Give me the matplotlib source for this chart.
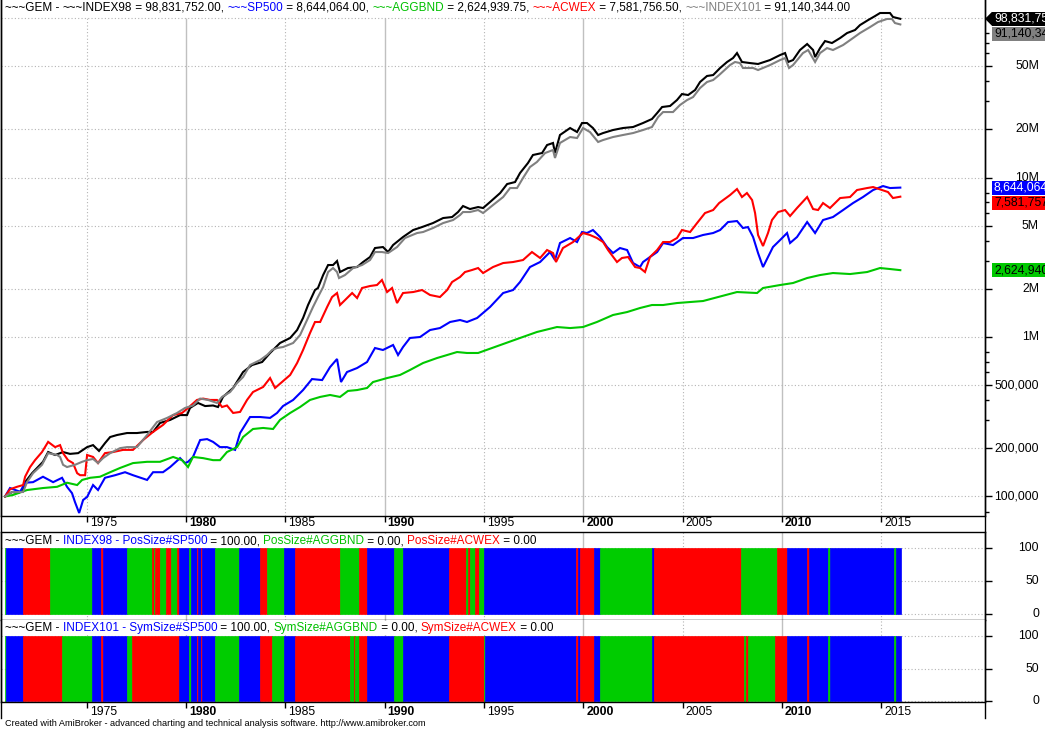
import matplotlib
matplotlib.use("Agg")
import matplotlib.pyplot as plt
from matplotlib.patches import Rectangle, Polygon
from matplotlib.lines import Line2D
from matplotlib.ticker import FixedLocator, NullFormatter
import numpy as np

plt.rcParams['font.family'] = ['Liberation Sans', 'DejaVu Sans']

# ---------------- data ----------------
idx98_dates = [1970.89, 1971.24, 1971.55, 1971.80, 1971.90, 1972.25, 1972.55, 1972.80, 1973.06, 1973.41,
               1973.81, 1974.16, 1974.57, 1975.02, 1975.32, 1975.62, 1975.92, 1976.18, 1976.53, 1977.03,
               1977.53, 1978.04, 1978.34, 1978.69, 1979.20, 1979.70, 1980.05, 1980.20, 1980.60, 1980.96,
               1981.36, 1981.61, 1981.86, 1982.37, 1982.87, 1983.32, 1983.83, 1984.23, 1984.73, 1985.24,
               1985.59, 1985.89, 1986.14, 1986.49, 1986.64, 1986.90, 1987.15, 1987.40, 1987.60, 1987.75,
               1988.15, 1988.61, 1988.91, 1989.26, 1989.51, 1989.91, 1990.17, 1990.42, 1990.92, 1991.43,
               1991.88, 1992.43, 1992.94, 1993.39, 1993.69, 1993.94, 1994.29, 1994.70, 1994.95, 1995.30,
               1995.81, 1996.16, 1996.56, 1996.81, 1997.21, 1997.46, 1997.92, 1998.17, 1998.47, 1998.57,
               1998.82, 1999.33, 1999.68, 1999.93, 2000.18, 2000.48, 2000.74, 2000.99, 2001.49, 2001.99,
               2002.50, 2003.00, 2003.45, 2003.71, 2003.96, 2004.36, 2004.71, 2004.96, 2005.27, 2005.62,
               2005.87, 2006.22, 2006.53, 2006.88, 2007.23, 2007.53, 2007.73, 2007.98, 2008.38, 2008.79,
               2009.39, 2009.90, 2010.15, 2010.30, 2010.55, 2010.90, 2011.26, 2011.56, 2011.66, 2011.91,
               2012.16, 2012.51, 2012.92, 2013.27, 2013.67, 2013.92, 2014.33, 2014.68, 2014.93, 2015.43,
               2015.58, 2015.95]
idx98_vals = [1.0e5, 1.067e5, 1.052e5, 1.098e5, 1.23e5, 1.40e5, 1.53e5, 1.65e5, 1.90e5, 1.82e5,
              1.90e5, 1.85e5, 1.87e5, 2.04e5, 2.10e5, 1.93e5, 2.16e5, 2.36e5, 2.43e5, 2.50e5,
              2.50e5, 2.54e5, 2.54e5, 2.89e5, 3.02e5, 3.24e5, 3.24e5, 3.59e5, 3.86e5, 3.69e5,
              3.72e5, 3.64e5, 4.21e5, 4.79e5, 6.03e5, 6.67e5, 6.97e5, 7.94e5, 9.17e5, 9.86e5,
              1.106e6, 1.316e6, 1.587e6, 1.970e6, 2.029e6, 2.446e6, 2.827e6, 2.827e6, 2.995e6, 2.555e6,
              2.707e6, 2.746e6, 2.952e6, 3.173e6, 3.613e6, 3.665e6, 3.410e6, 3.773e6, 4.235e6, 4.685e6,
              4.891e6, 5.182e6, 5.571e6, 5.652e6, 6.075e6, 6.625e6, 6.344e6, 6.528e6, 6.436e6, 7.017e6,
              7.992e6, 9.100e6, 9.365e6, 1.067e7, 1.233e7, 1.384e7, 1.424e7, 1.598e7, 1.646e7, 1.424e7,
              1.847e7, 2.043e7, 1.928e7, 2.196e7, 2.196e7, 2.043e7, 1.847e7, 1.900e7, 1.985e7, 2.043e7,
              2.073e7, 2.196e7, 2.327e7, 2.536e7, 2.767e7, 2.808e7, 3.061e7, 3.337e7, 3.290e7, 3.536e7,
              3.970e7, 4.330e7, 4.390e7, 4.860e7, 5.300e7, 5.610e7, 6.030e7, 5.300e7, 5.220e7, 5.150e7,
              5.450e7, 5.860e7, 6.030e7, 5.300e7, 5.450e7, 6.300e7, 6.870e7, 6.300e7, 5.690e7, 6.480e7,
              7.170e7, 6.970e7, 7.490e7, 8.050e7, 8.410e7, 9.030e7, 9.710e7, 1.029e8, 1.075e8, 1.075e8,
              1.015e8, 98831752.00]

idx101_dates = [1970.89, 1971.24, 1971.80, 1972.00, 1972.30, 1972.75, 1973.06, 1973.51, 1973.66, 1973.81,
                1974.01, 1974.41, 1974.77, 1975.02, 1975.32, 1975.57, 1975.82, 1976.18, 1976.68, 1977.03,
                1977.53, 1978.04, 1978.54, 1979.05, 1979.55, 1979.95, 1980.35, 1980.71, 1981.11, 1981.56,
                1981.81, 1982.22, 1982.57, 1982.87, 1983.22, 1983.73, 1984.08, 1984.33, 1984.58, 1984.88,
                1985.39, 1985.74, 1986.09, 1986.39, 1986.64, 1986.90, 1987.15, 1987.40, 1987.60, 1987.70,
                1988.00, 1988.41, 1988.86, 1989.26, 1989.51, 1989.86, 1990.17, 1990.62, 1991.02, 1991.63,
                1991.93, 1992.43, 1992.94, 1993.44, 1993.79, 1993.94, 1994.29, 1994.70, 1994.95, 1995.45,
                1995.96, 1996.31, 1996.66, 1996.96, 1997.31, 1997.66, 1998.07, 1998.47, 1998.57, 1998.82,
                1999.33, 1999.68, 1999.98, 2000.33, 2000.74, 2000.99, 2001.49, 2001.99, 2002.50, 2003.00,
                2003.45, 2003.76, 2004.01, 2004.51, 2004.86, 2005.22, 2005.52, 2005.87, 2006.22, 2006.53,
                2006.83, 2007.38, 2007.63, 2007.88, 2008.03, 2008.54, 2008.79, 2009.39, 2009.90, 2010.15,
                2010.35, 2010.55, 2011.05, 2011.31, 2011.66, 2011.91, 2012.26, 2012.56, 2013.07, 2013.57,
                2013.92, 2014.43, 2014.83, 2015.28, 2015.53, 2015.68, 2015.95]
idx101_vals = [1.0e5, 1.067e5, 1.067e5, 1.233e5, 1.40e5, 1.58e5, 1.87e5, 1.82e5, 1.77e5, 1.58e5,
               1.53e5, 1.58e5, 1.65e5, 1.69e5, 1.72e5, 1.62e5, 1.74e5, 1.87e5, 2.01e5, 2.04e5,
               2.04e5, 2.43e5, 2.93e5, 3.11e5, 3.34e5, 3.59e5, 3.72e5, 4.11e5, 4.03e5, 3.86e5,
               4.21e5, 4.52e5, 5.15e5, 5.61e5, 6.67e5, 7.17e5, 7.71e5, 8.29e5, 8.53e5, 8.65e5,
               9.17e5, 1.029e6, 1.278e6, 1.542e6, 1.781e6, 2.057e6, 2.555e6, 2.707e6, 2.555e6, 2.343e6,
               2.446e6, 2.707e6, 2.827e6, 3.038e6, 3.410e6, 3.410e6, 3.361e6, 3.665e6, 4.174e6, 4.487e6,
               4.552e6, 4.822e6, 5.182e6, 5.412e6, 5.816e6, 6.075e6, 6.075e6, 6.253e6, 5.988e6, 6.721e6,
               7.543e6, 8.590e6, 8.590e6, 9.930e6, 1.163e7, 1.251e7, 1.424e7, 1.488e7, 1.326e7, 1.646e7,
               1.794e7, 1.768e7, 2.043e7, 1.928e7, 1.670e7, 1.718e7, 1.794e7, 1.847e7, 1.900e7, 1.985e7,
               2.073e7, 2.394e7, 2.573e7, 2.573e7, 2.847e7, 3.061e7, 3.195e7, 3.639e7, 3.970e7, 4.085e7,
               4.390e7, 5.070e7, 5.300e7, 5.220e7, 4.860e7, 4.860e7, 4.720e7, 5.070e7, 5.450e7, 5.610e7,
               4.860e7, 5.070e7, 6.030e7, 6.300e7, 5.300e7, 6.030e7, 6.480e7, 6.300e7, 6.770e7, 7.490e7,
               8.050e7, 8.780e7, 9.440e7, 9.860e7, 9.860e7, 9.300e7, 91140344.00]

sp500_dates = [1970.89, 1971.14, 1971.65, 1971.90, 1972.30, 1972.80, 1973.31, 1973.76, 1974.01, 1974.26,
               1974.41, 1974.62, 1974.82, 1975.02, 1975.32, 1975.57, 1975.92, 1976.43, 1976.93, 1977.33,
               1978.04, 1978.34, 1978.84, 1979.20, 1979.70, 1979.95, 1980.10, 1980.35, 1980.71, 1981.06,
               1981.36, 1981.71, 1982.06, 1982.47, 1982.72, 1983.22, 1983.73, 1984.23, 1984.58, 1984.88,
               1985.39, 1985.89, 1986.34, 1986.85, 1987.25, 1987.60, 1987.80, 1988.10, 1988.61, 1989.11,
               1989.51, 1989.91, 1990.42, 1990.67, 1990.92, 1991.27, 1991.78, 1992.28, 1992.78, 1993.29,
               1993.79, 1994.14, 1994.65, 1995.30, 1995.96, 1996.46, 1996.81, 1997.31, 1997.82, 1998.32,
               1998.57, 1998.82, 1999.33, 1999.68, 1999.93, 2000.18, 2000.48, 2000.84, 2001.19, 2001.49,
               2001.84, 2002.20, 2002.50, 2002.85, 2003.00, 2003.35, 2003.71, 2004.01, 2004.51, 2005.01,
               2005.52, 2006.02, 2006.53, 2006.88, 2007.28, 2007.73, 2008.03, 2008.28, 2008.54, 2008.79,
               2009.04, 2009.29, 2009.54, 2009.90, 2010.25, 2010.40, 2010.75, 2011.26, 2011.66, 2012.06,
               2012.56, 2013.07, 2013.57, 2014.07, 2014.58, 2015.08, 2015.43, 2015.95]
sp500_vals = [1.0e5, 1.13e5, 1.07e5, 1.22e5, 1.23e5, 1.33e5, 1.23e5, 1.31e5, 1.15e5, 1.05e5,
              9.23e4, 7.88e4, 9.51e4, 9.93e4, 1.18e5, 1.098e5, 1.31e5, 1.36e5, 1.42e5, 1.36e5,
              1.27e5, 1.42e5, 1.42e5, 1.53e5, 1.74e5, 1.62e5, 1.65e5, 1.77e5, 2.26e5, 2.29e5,
              2.20e5, 2.04e5, 2.04e5, 1.96e5, 2.50e5, 3.15e5, 3.15e5, 3.11e5, 3.34e5, 3.69e5,
              4.03e5, 4.65e5, 5.45e5, 5.37e5, 6.48e5, 7.28e5, 5.22e5, 6.03e5, 6.39e5, 6.97e5,
              8.53e5, 8.29e5, 8.91e5, 7.71e5, 8.65e5, 9.86e5, 1.000e6, 1.106e6, 1.138e6, 1.242e6,
              1.278e6, 1.242e6, 1.316e6, 1.542e6, 1.887e6, 1.970e6, 2.212e6, 2.746e6, 2.952e6, 3.410e6,
              3.038e6, 3.883e6, 4.174e6, 3.940e6, 4.552e6, 4.487e6, 4.685e6, 4.235e6, 3.665e6, 3.361e6,
              3.613e6, 3.510e6, 2.909e6, 2.746e6, 2.952e6, 3.173e6, 3.410e6, 3.883e6, 3.773e6, 4.174e6,
              4.174e6, 4.361e6, 4.487e6, 4.685e6, 5.258e6, 5.335e6, 4.822e6, 4.891e6, 4.235e6, 3.361e6,
              2.746e6, 3.173e6, 3.665e6, 4.055e6, 4.487e6, 3.883e6, 4.235e6, 5.258e6, 4.487e6, 5.412e6,
              5.652e6, 6.253e6, 6.916e6, 7.543e6, 8.346e6, 8.839e6, 8.590e6, 8644064.00]

aggbnd_dates = [1970.89, 1971.29, 1972.00, 1972.80, 1973.51, 1974.01, 1974.52, 1974.77, 1975.17, 1975.67,
                1976.18, 1976.68, 1977.33, 1978.04, 1978.69, 1979.35, 1979.80, 1980.10, 1980.35, 1980.86,
                1981.36, 1981.71, 1982.06, 1982.57, 1982.87, 1983.37, 1983.88, 1984.38, 1984.73, 1985.24,
                1985.74, 1986.24, 1986.75, 1987.25, 1987.75, 1988.15, 1988.61, 1989.11, 1989.41, 1990.12,
                1990.77, 1991.27, 1991.93, 1992.63, 1993.14, 1993.64, 1994.14, 1994.70, 1996.81, 1997.66,
                1998.67, 1999.33, 1999.98, 2000.68, 2001.49, 2002.20, 2002.85, 2003.45, 2004.01, 2004.71,
                2005.37, 2006.02, 2006.78, 2007.73, 2008.74, 2009.04, 2009.90, 2010.55, 2011.26, 2011.91,
                2012.56, 2013.42, 2014.28, 2014.93, 2015.43, 2015.95]
aggbnd_vals = [1.0e5, 1.022e5, 1.098e5, 1.13e5, 1.15e5, 1.22e5, 1.18e5, 1.27e5, 1.31e5, 1.33e5,
               1.42e5, 1.51e5, 1.62e5, 1.65e5, 1.65e5, 1.77e5, 1.69e5, 1.53e5, 1.77e5, 1.74e5,
               1.69e5, 1.69e5, 1.90e5, 2.04e5, 2.36e5, 2.65e5, 2.69e5, 2.65e5, 3.02e5, 3.34e5,
               3.64e5, 4.03e5, 4.21e5, 4.33e5, 4.21e5, 4.59e5, 4.65e5, 4.79e5, 5.22e5, 5.53e5,
               5.78e5, 6.21e5, 6.87e5, 7.38e5, 7.71e5, 8.05e5, 7.94e5, 7.94e5, 9.86e5, 1.075e6,
               1.155e6, 1.138e6, 1.155e6, 1.242e6, 1.374e6, 1.434e6, 1.520e6, 1.587e6, 1.587e6, 1.633e6,
               1.657e6, 1.681e6, 1.781e6, 1.914e6, 1.887e6, 2.029e6, 2.118e6, 2.180e6, 2.343e6, 2.446e6,
               2.518e6, 2.482e6, 2.555e6, 2.707e6, 2.668e6, 2624939.75]

acwex_dates = [1970.89, 1971.14, 1971.49, 1971.80, 1971.90, 1972.15, 1972.40, 1972.75, 1973.06, 1973.41,
               1973.66, 1973.81, 1974.06, 1974.31, 1974.52, 1974.67, 1974.92, 1975.02, 1975.32, 1975.57,
               1975.92, 1976.33, 1976.83, 1977.33, 1977.84, 1978.34, 1978.84, 1979.35, 1979.80, 1980.10,
               1980.55, 1980.86, 1981.21, 1981.56, 1981.81, 1982.06, 1982.37, 1982.72, 1983.07, 1983.37,
               1983.88, 1984.23, 1984.48, 1984.83, 1985.24, 1985.59, 1985.89, 1986.24, 1986.49, 1986.75,
               1987.10, 1987.35, 1987.60, 1987.75, 1988.10, 1988.36, 1988.61, 1988.86, 1989.26, 1989.61,
               1989.86, 1990.12, 1990.37, 1990.62, 1990.92, 1991.43, 1991.88, 1992.28, 1992.78, 1993.14,
               1993.39, 1993.79, 1994.04, 1994.39, 1994.70, 1994.95, 1995.45, 1995.96, 1996.46, 1996.96,
               1997.41, 1997.82, 1998.17, 1998.47, 1998.62, 1998.97, 1999.48, 1999.98, 2000.33, 2000.68,
               2000.99, 2001.24, 2001.69, 2001.94, 2002.25, 2002.60, 2002.85, 2003.10, 2003.35, 2003.71,
               2004.01, 2004.36, 2004.71, 2004.96, 2005.37, 2005.72, 2006.12, 2006.53, 2006.83, 2007.38,
               2007.73, 2007.98, 2008.23, 2008.49, 2008.64, 2008.79, 2009.04, 2009.29, 2009.49, 2009.80,
               2010.15, 2010.40, 2010.75, 2011.26, 2011.56, 2011.81, 2012.06, 2012.41, 2012.92, 2013.42,
               2013.77, 2014.28, 2014.58, 2015.03, 2015.33, 2015.58, 2015.95]
acwex_vals = [1.0e5, 1.11e5, 1.15e5, 1.18e5, 1.33e5, 1.53e5, 1.69e5, 1.90e5, 2.20e5, 2.04e5,
              2.10e5, 1.87e5, 1.69e5, 1.62e5, 1.40e5, 1.36e5, 1.36e5, 1.82e5, 1.77e5, 1.62e5,
              1.87e5, 1.90e5, 1.96e5, 1.96e5, 2.26e5, 2.54e5, 2.81e5, 3.24e5, 3.34e5, 3.59e5,
              4.03e5, 4.11e5, 4.03e5, 4.03e5, 3.64e5, 3.72e5, 3.34e5, 3.39e5, 4.03e5, 4.52e5,
              4.86e5, 5.53e5, 4.79e5, 5.22e5, 5.78e5, 6.87e5, 8.29e5, 1.059e6, 1.242e6, 1.242e6,
              1.542e6, 1.781e6, 1.887e6, 1.587e6, 1.755e6, 1.887e6, 1.755e6, 2.029e6, 2.088e6, 2.118e6,
              2.277e6, 1.914e6, 2.029e6, 1.633e6, 1.887e6, 1.914e6, 1.970e6, 1.834e6, 1.781e6, 1.970e6,
              2.212e6, 2.377e6, 2.555e6, 2.630e6, 2.707e6, 2.518e6, 2.746e6, 2.909e6, 2.952e6, 3.038e6,
              3.410e6, 3.129e6, 3.510e6, 3.361e6, 2.952e6, 3.613e6, 3.940e6, 4.487e6, 4.361e6, 4.174e6,
              3.940e6, 3.510e6, 2.952e6, 3.129e6, 3.173e6, 2.746e6, 2.707e6, 2.555e6, 3.173e6, 3.510e6,
              3.940e6, 3.940e6, 4.174e6, 4.685e6, 4.552e6, 5.182e6, 5.988e6, 6.253e6, 6.916e6, 7.762e6,
              8.467e6, 7.543e6, 7.992e6, 7.223e6, 5.988e6, 4.361e6, 3.719e6, 4.487e6, 5.412e6, 6.075e6,
              6.253e6, 5.734e6, 6.436e6, 7.543e6, 6.344e6, 6.253e6, 6.916e6, 6.436e6, 7.435e6, 7.543e6,
              8.346e6, 8.590e6, 8.714e6, 8.346e6, 8.108e6, 7.435e6, 7581756.50]

# position switches (start of each holding period) for the two lower panes
pos98_starts = [1970.87, 1970.95, 1971.80, 1973.15, 1975.26, 1975.72, 1975.80, 1977.02, 1978.31, 1978.39,
                1978.45, 1978.70, 1978.99, 1979.26, 1979.54, 1979.64, 1980.16, 1980.26, 1980.57, 1980.62,
                1980.75, 1980.80, 1981.47, 1982.68, 1983.72, 1984.06, 1984.93, 1985.49, 1987.76, 1988.69,
                1989.11, 1990.48, 1990.92, 1993.23, 1994.10, 1994.18, 1994.29, 1994.53, 1994.76, 1995.01,
                1999.65, 1999.72, 1999.83, 2000.52, 2000.84, 2003.45, 2003.55, 2007.93, 2009.75, 2010.25,
                2011.25, 2011.35, 2012.33, 2012.41, 2015.65, 2015.73]
pos98_assets = ['AGGBND', 'SP500', 'ACWEX', 'AGGBND', 'SP500', 'ACWEX', 'SP500', 'AGGBND', 'ACWEX', 'AGGBND',
                'ACWEX', 'AGGBND', 'ACWEX', 'AGGBND', 'ACWEX', 'SP500', 'AGGBND', 'SP500', 'ACWEX', 'SP500',
                'ACWEX', 'SP500', 'AGGBND', 'SP500', 'ACWEX', 'AGGBND', 'SP500', 'ACWEX', 'AGGBND', 'ACWEX',
                'SP500', 'AGGBND', 'SP500', 'ACWEX', 'AGGBND', 'ACWEX', 'AGGBND', 'ACWEX', 'AGGBND', 'SP500',
                'ACWEX', 'SP500', 'ACWEX', 'SP500', 'AGGBND', 'SP500', 'ACWEX', 'AGGBND', 'ACWEX', 'SP500',
                'ACWEX', 'SP500', 'AGGBND', 'SP500', 'AGGBND', 'SP500']
pos101_starts = [1970.87, 1970.95, 1971.80, 1973.77, 1975.26, 1975.72, 1975.80, 1977.02, 1977.29, 1979.64,
                 1980.16, 1980.26, 1980.57, 1980.62, 1980.75, 1980.80, 1981.47, 1982.68, 1983.72, 1984.34,
                 1984.93, 1985.49, 1988.27, 1988.46, 1988.52, 1988.69, 1989.11, 1990.48, 1990.92, 1993.23,
                 1994.98, 1995.03, 1999.65, 1999.72, 1999.83, 2000.52, 2000.84, 2003.45, 2003.55, 2008.08,
                 2008.20, 2008.27, 2009.64, 2010.25, 2011.25, 2011.35, 2012.33, 2012.41, 2015.65, 2015.73]
pos101_assets = ['AGGBND', 'SP500', 'ACWEX', 'AGGBND', 'SP500', 'ACWEX', 'SP500', 'AGGBND', 'ACWEX', 'SP500',
                 'AGGBND', 'SP500', 'ACWEX', 'SP500', 'ACWEX', 'SP500', 'AGGBND', 'SP500', 'ACWEX', 'AGGBND',
                 'SP500', 'ACWEX', 'AGGBND', 'ACWEX', 'AGGBND', 'ACWEX', 'SP500', 'AGGBND', 'SP500', 'ACWEX',
                 'AGGBND', 'SP500', 'ACWEX', 'SP500', 'ACWEX', 'SP500', 'AGGBND', 'SP500', 'ACWEX', 'AGGBND',
                 'ACWEX', 'AGGBND', 'ACWEX', 'SP500', 'ACWEX', 'SP500', 'AGGBND', 'SP500', 'AGGBND', 'SP500']
pos_end = 2015.98

year_ticks = [1975, 1980, 1985, 1990, 1995, 2000, 2005, 2010, 2015]
price_major = [1e5, 2e5, 5e5, 1e6, 2e6, 5e6, 1e7, 2e7, 5e7, 1e8]
price_major_labels = ['100,000', '200,000', '500,000', '1M', '2M', '5M', '10M', '20M', '50M', '']
pane_ticks = [0, 50, 100]

# ---------------- styling ----------------
BLUE, RED, GREEN, GRAY = '#0000ff', '#ff0000', '#00c800', '#808080'
BAR_COL = {'SP500': '#0000ff', 'AGGBND': '#00cc00', 'ACWEX': '#ff0000'}
FS = 8.8
FS_T = 8.5
W, H = 1045, 731
fig = plt.figure(figsize=(W / 100, H / 100), dpi=100)
fig.patch.set_facecolor('white')

PL, PR = 1, 985
XMIN, XMAX = 1970.687, 2020.212
YMIN, YMAX = 7.546e4, 1.297e8


def add_pane(top, bottom):
    return fig.add_axes([PL / W, 1 - bottom / H, (PR - PL) / W, (bottom - top) / H])


ax = add_pane(0, 516)
ax2 = add_pane(532, 620)
ax3 = add_pane(620, 702)

GRID_KW = dict(color='#b4b4b4', lw=0.8, ls=(0, (1, 2)))


def vgrid(a, lo=None, hi=None):
    for yr in year_ticks:
        kw = dict(color='#c0c0c0', lw=1.0) if yr % 10 == 0 else GRID_KW
        if lo is None:
            a.axvline(yr, zorder=0.5, **kw)
        else:
            a.vlines(yr, lo, hi, zorder=0.5, **kw)


for a in (ax, ax2, ax3):
    a.set_xlim(XMIN, XMAX)
    a.set_facecolor('white')
    for s in a.spines.values():
        s.set_color('black')
        s.set_linewidth(1.0)
    a.spines['top'].set_visible(False)
    a.yaxis.set_ticks_position('right')
    a.tick_params(axis='y', which='both', direction='out', labelleft=False, labelright=False,
                  color='black')
    a.tick_params(axis='y', which='major', length=5, width=1)
    a.tick_params(axis='y', which='minor', length=3, width=1)

ax2.spines['top'].set_visible(True)

# main pane
ax.set_yscale('log')
ax.set_ylim(YMIN, YMAX)
vgrid(ax, YMIN, price_major[-1])
vgrid(ax2)
vgrid(ax3)
ax.yaxis.set_major_locator(FixedLocator(price_major))
minors = [m * 10 ** e for e in range(4, 9) for m in (3, 4, 6, 7, 8)]
ax.yaxis.set_minor_locator(FixedLocator([v for v in minors if YMIN < v < YMAX]))
ax.yaxis.set_major_formatter(NullFormatter())
ax.yaxis.set_minor_formatter(NullFormatter())
for v in price_major:
    ax.axhline(v, zorder=0.5, **GRID_KW)
for v, lab in zip(price_major, price_major_labels):
    if lab:
        ax.annotate(lab, xy=(1, v), xycoords=('axes fraction', 'data'), xytext=(54, 0),
                    textcoords='offset pixels', ha='right', va='center', fontsize=FS,
                    annotation_clip=False)

series = [
    (idx98_dates, idx98_vals, 'black'),
    (sp500_dates, sp500_vals, BLUE),
    (aggbnd_dates, aggbnd_vals, GREEN),
    (acwex_dates, acwex_vals, RED),
    (idx101_dates, idx101_vals, GRAY),
]
for d, v, c in series:
    ax.plot(d, v, color=c, lw=1.5, zorder=3, solid_joinstyle='miter')

# x ticks / year labels
for a, off in ((ax, -7), (ax3, -10)):
    a.set_xticks(year_ticks)
    a.tick_params(axis='x', direction='out', length=4, width=1, labelbottom=False, color='black')
    for yr in year_ticks:
        a.annotate(str(yr), xy=(yr, 0), xycoords=('data', 'axes fraction'), xytext=(3, off),
                   textcoords='offset pixels', ha='left', va='center', fontsize=FS,
                   fontweight='bold' if yr % 10 == 0 else 'normal', annotation_clip=False)
ax2.set_xticks([])

# position panes
for a, starts, assets, ylim in ((ax2, pos98_starts, pos98_assets, (-9.1, 124.2)),
                                (ax3, pos101_starts, pos101_assets, (-1.5, 124.6))):
    a.set_ylim(*ylim)
    edges = list(starts) + [pos_end]
    for i, asset in enumerate(assets):
        a.bar(edges[i], 100, width=edges[i + 1] - edges[i], align='edge',
              color=BAR_COL[asset], edgecolor=BAR_COL[asset], linewidth=0.5, zorder=2)
    a.yaxis.set_major_locator(FixedLocator(pane_ticks))
    a.yaxis.set_major_formatter(NullFormatter())
    for v in pane_ticks:
        a.axhline(v, zorder=0.5, **GRID_KW)
        a.annotate(str(v), xy=(1, v), xycoords=('axes fraction', 'data'), xytext=(54, 0),
                   textcoords='offset pixels', ha='right', va='center', fontsize=FS,
                   annotation_clip=False)

# ---------------- texts ----------------
renderer = fig.canvas.get_renderer()


def text_width(s, **kw):
    t = fig.text(0, 0, '|' + s + '|', **kw)
    w1 = t.get_window_extent(renderer).width
    t.set_text('||')
    w2 = t.get_window_extent(renderer).width
    t.remove()
    return w1 - w2


def rich_text(x, y, parts, fs=FS_T):
    widths = [text_width(s, fontsize=fs) for s, _ in parts]
    total = sum(widths)
    # opaque background behind the whole title line (hides the grid as in the original)
    fig.add_artist(Rectangle(((x - 1) / W, 1 - (y + 7) / H), (total + 3) / W, 14 / H,
                             transform=fig.transFigure, facecolor='white', edgecolor='none',
                             zorder=2.5))
    for (s, c), w in zip(parts, widths):
        fig.text(x / W, 1 - y / H, s, color=c, fontsize=fs, ha='left', va='center', zorder=3)
        x += w


def fmt2(v):
    return f"{v:,.2f}"


K = 'black'
TGREEN = '#00c000'
rich_text(5, 8, [("~~~GEM - ", K), ("~~~INDEX98", K), (f" = {fmt2(idx98_vals[-1])}, ", K),
                 ("~~~SP500", BLUE), (f" = {fmt2(sp500_vals[-1])}, ", K),
                 ("~~~AGGBND", TGREEN), (f" = {fmt2(aggbnd_vals[-1])}, ", K),
                 ("~~~ACWEX", RED), (f" = {fmt2(acwex_vals[-1])}, ", K),
                 ("~~~INDEX101", GRAY), (f" = {fmt2(idx101_vals[-1])}", K)])
rich_text(5, 541, [("~~~GEM - ", K), ("INDEX98 - PosSize#SP500", BLUE), (" = 100.00, ", K),
                   ("PosSize#AGGBND", TGREEN), (" = 0.00, ", K), ("PosSize#ACWEX", RED),
                   (" = 0.00", K)])
rich_text(5, 628, [("~~~GEM - ", K), ("INDEX101 - SymSize#SP500", BLUE), (" = 100.00, ", K),
                   ("SymSize#AGGBND", TGREEN), (" = 0.00, ", K), ("SymSize#ACWEX", RED),
                   (" = 0.00", K)])
fig.text(5 / W, 1 - 724 / H,
         "Created with AmiBroker - advanced charting and technical analysis software. http://www.amibroker.com",
         fontsize=6.6, ha='left', va='center', color='black')

# last-value boxes on the right axis (text runs off the edge, as in the original)
fig.canvas.draw()
boxes = [(idx98_vals[-1], 'black', 'white', True), (idx101_vals[-1], GRAY, 'black', False),
         (sp500_vals[-1], BLUE, 'white', False), (acwex_vals[-1], RED, 'black', False),
         (aggbnd_vals[-1], '#00c800', 'black', False)]
placed = []
for v, fc, tc, arrow in boxes:
    ypx = H - ax.transData.transform((XMAX, v))[1]
    placed.append([ypx, v, fc, tc, arrow])
placed.sort(key=lambda p: p[0])
for i in range(1, len(placed)):
    if placed[i][0] - placed[i - 1][0] < 15:
        placed[i][0] = placed[i - 1][0] + 15
for ypx, v, fc, tc, arrow in placed:
    fig.add_artist(Rectangle((992 / W, 1 - (ypx + 7) / H), (W - 992) / W, 14 / H,
                             transform=fig.transFigure, facecolor=fc, edgecolor='none', zorder=5))
    if arrow:
        fig.add_artist(Polygon([(985 / W, 1 - ypx / H), (992 / W, 1 - (ypx - 7) / H),
                                (992 / W, 1 - (ypx + 7) / H)], closed=True,
                               transform=fig.transFigure, facecolor=fc, edgecolor='none', zorder=5))
    fig.text(994 / W, 1 - ypx / H, f"{int(np.floor(v + 0.5)):,}", color=tc, fontsize=FS,
             ha='left', va='center', zorder=6)

# frame lines spanning the whole chart
fig.add_artist(Line2D([PR / W, PR / W], [1, 1 - 718 / H], transform=fig.transFigure,
                      color='black', lw=1.0, zorder=4))
fig.add_artist(Line2D([0.5 / W, 0.5 / W], [1, 1 - 718 / H], transform=fig.transFigure,
                      color='black', lw=1.0, zorder=4))

fig.savefig('out.png', dpi=100, facecolor='white')
